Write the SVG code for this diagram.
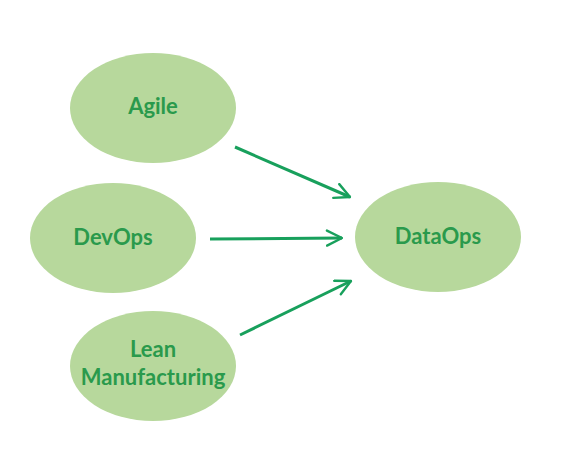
<svg xmlns="http://www.w3.org/2000/svg" width="564" height="474" viewBox="0 0 564 474">
<defs>
<marker id="arr" viewBox="0 0 12 12" refX="11" refY="6" markerWidth="6" markerHeight="6" markerUnits="strokeWidth" orient="auto">
<path d="M1,1 L11,6 L1,11" fill="none" stroke="#18a05c" stroke-width="1.6" stroke-linecap="round" stroke-linejoin="round"/>
</marker>
<style>
.n{fill:#b7d89c}
.t{font-family:Lato,"Liberation Sans",sans-serif;font-weight:bold;font-size:22px;fill:#2a9a4c;text-anchor:middle}
.c{stroke:#18a05c;stroke-width:3;fill:none;marker-end:url(#arr)}
</style>
</defs>
<rect width="564" height="474" fill="#fff"/>
<g id="agile"><ellipse class="n" cx="153" cy="108" rx="83" ry="55"/><text class="t" x="153" y="114">Agile</text></g>
<g id="devops"><ellipse class="n" cx="113" cy="238" rx="83" ry="55"/><text class="t" x="113" y="245">DevOps</text></g>
<g id="lean"><ellipse class="n" cx="153" cy="366" rx="83" ry="55"/><text class="t" x="153" y="357">Lean</text><text class="t" x="153" y="385">Manufacturing</text></g>
<g id="dataops"><ellipse class="n" cx="438" cy="237" rx="83" ry="55"/><text class="t" x="438" y="244">DataOps</text></g>
<g id="connectors">
<line class="c" x1="235" y1="147" x2="350" y2="197"/>
<line class="c" x1="210" y1="239" x2="342" y2="238"/>
<line class="c" x1="240" y1="335" x2="351" y2="281"/>
</g>
</svg>
